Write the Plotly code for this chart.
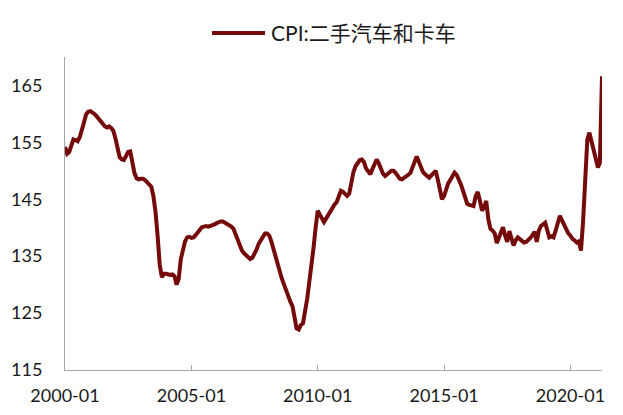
import pandas as pd
import plotly.graph_objects as go

series_name = "CPI:二手汽车和卡车"
start_month = "2000-01-01"

# Monthly index values, 2000-01 .. 2021-04
cpi_used_cars = [
    154.2, 153.0, 153.3, 154.5, 155.5, 155.4, 155.2, 155.9, 157.0, 158.5, 159.9, 160.4,  # 2000
    160.5, 160.3, 160.0, 159.6, 159.1, 158.7, 158.3, 157.8, 157.6, 157.8, 157.5, 157.0,  # 2001
    155.6, 154.0, 152.4, 152.0, 151.9, 152.6, 153.3, 153.4, 151.3, 149.6, 148.7, 148.5,  # 2002
    148.6, 148.6, 148.4, 148.0, 147.6, 147.2, 145.6, 142.8, 138.5, 133.5, 131.3, 131.9,  # 2003
    131.9, 131.8, 131.7, 131.8, 131.5, 130.0, 131.0, 134.5, 136.5, 137.6, 138.3, 138.4,  # 2004
    138.2, 138.3, 138.7, 139.2, 139.7, 140.1, 140.2, 140.3, 140.2, 140.3, 140.4, 140.6,  # 2005
    140.8, 141.0, 141.1, 141.1, 140.9, 140.6, 140.4, 140.2, 139.8, 138.8, 137.9, 136.9,  # 2006
    136.0, 135.5, 135.1, 134.8, 134.5, 134.7, 135.3, 136.2, 137.2, 137.8, 138.6, 139.0,  # 2007
    139.0, 138.6, 137.6, 136.2, 134.8, 133.6, 132.3, 131.0, 130.0, 128.9, 127.8, 127.0,  # 2008
    126.2, 124.0, 122.3, 122.1, 122.9, 123.2, 125.0, 127.5, 130.5, 133.0, 136.5, 140.0,  # 2009
    143.0, 142.3, 141.5, 141.0, 141.6, 142.3, 143.0, 143.6, 144.1, 144.5, 145.4, 146.5,  # 2010
    146.3, 145.9, 145.6, 146.0, 148.0, 149.8, 150.8, 151.5, 151.9, 152.0, 151.5, 150.4,  # 2011
    149.8, 149.4, 150.3, 151.4, 152.0, 151.3, 150.3, 149.5, 149.1, 149.3, 149.7, 150.0,  # 2012
    150.0, 149.6, 149.0, 148.6, 148.5, 148.7, 149.0, 149.3, 149.6, 150.6, 151.7, 152.5,  # 2013
    151.6, 150.6, 149.8, 149.4, 149.0, 148.8, 149.2, 149.7, 150.0, 148.5, 146.3, 145.0,  # 2014
    145.6, 147.0, 147.8, 148.4, 149.2, 149.7, 149.3, 148.6, 147.6, 146.5, 145.1, 144.2,  # 2015
    144.0, 143.9, 143.8, 145.5, 146.3, 144.8, 143.0, 143.6, 144.7, 141.5, 139.8, 139.5,  # 2016
    139.0, 137.3, 138.2, 139.3, 140.1, 138.6, 137.5, 139.4, 137.9, 136.9, 137.8, 138.3,  # 2017
    138.0, 137.6, 137.4, 137.5, 137.8, 138.2, 138.7, 139.3, 137.5, 139.5, 140.3, 140.5,  # 2018
    140.9, 139.5, 138.3, 138.5, 138.3, 139.5, 141.0, 142.1, 141.3, 140.5, 139.8, 139.0,  # 2019
    138.6, 138.0, 137.8, 137.4, 137.6, 136.0, 141.0, 148.5, 155.5, 156.7, 155.2, 153.5,  # 2020
    152.0, 150.6, 151.4, 166.6,                                                          # 2021
]

months = pd.date_range(start_month, periods=len(cpi_used_cars), freq="MS")

x_tick_labels = ["2000-01", "2005-01", "2010-01", "2015-01", "2020-01"]
y_tick_values = [115, 125, 135, 145, 155, 165]

line_color = "#740a0a"
font_family = "Lato, 'Noto Sans CJK SC', sans-serif"

fig = go.Figure()
fig.add_trace(go.Scatter(
    x=months,
    y=cpi_used_cars,
    mode="lines",
    name=series_name,
    line=dict(color=line_color, width=4),
    showlegend=False,
))

# Legend drawn as a sample line plus a text label above the plot
legend_y = 1.0767
fig.add_shape(
    type="line", xref="paper", yref="paper",
    x0=0.2737, x1=0.3724, y0=legend_y, y1=legend_y,
    line=dict(color=line_color, width=4),
)
fig.add_annotation(
    xref="paper", yref="paper",
    x=0.3799, y=legend_y,
    xanchor="left", yanchor="middle",
    text=series_name, showarrow=False,
    font=dict(size=21, family=font_family, color="#1a1a1a"),
)

fig.update_layout(
    width=615,
    height=407,
    margin=dict(l=57, r=21, t=49, b=45, autoexpand=False),
    paper_bgcolor="white",
    plot_bgcolor="white",
    font=dict(family=font_family, size=18, color="#1a1a1a"),
    showlegend=False,
)

fig.update_xaxes(
    type="date",
    range=[months[0], months[-1]],
    tickvals=[pd.Timestamp(t + "-01") for t in x_tick_labels],
    ticktext=x_tick_labels,
    showline=True,
    linecolor="#a6a6a6",
    linewidth=1,
    ticks="inside",
    ticklen=5,
    tickcolor="#a6a6a6",
    showgrid=False,
    zeroline=False,
    automargin=False,
    ticklabelstandoff=9,
)

fig.update_yaxes(
    range=[115, 170],
    tickvals=y_tick_values,
    showline=True,
    linecolor="#a6a6a6",
    linewidth=1,
    ticks="",
    showgrid=False,
    zeroline=False,
    automargin=False,
    ticklabelstandoff=18,
)

fig.write_html("out.html")
